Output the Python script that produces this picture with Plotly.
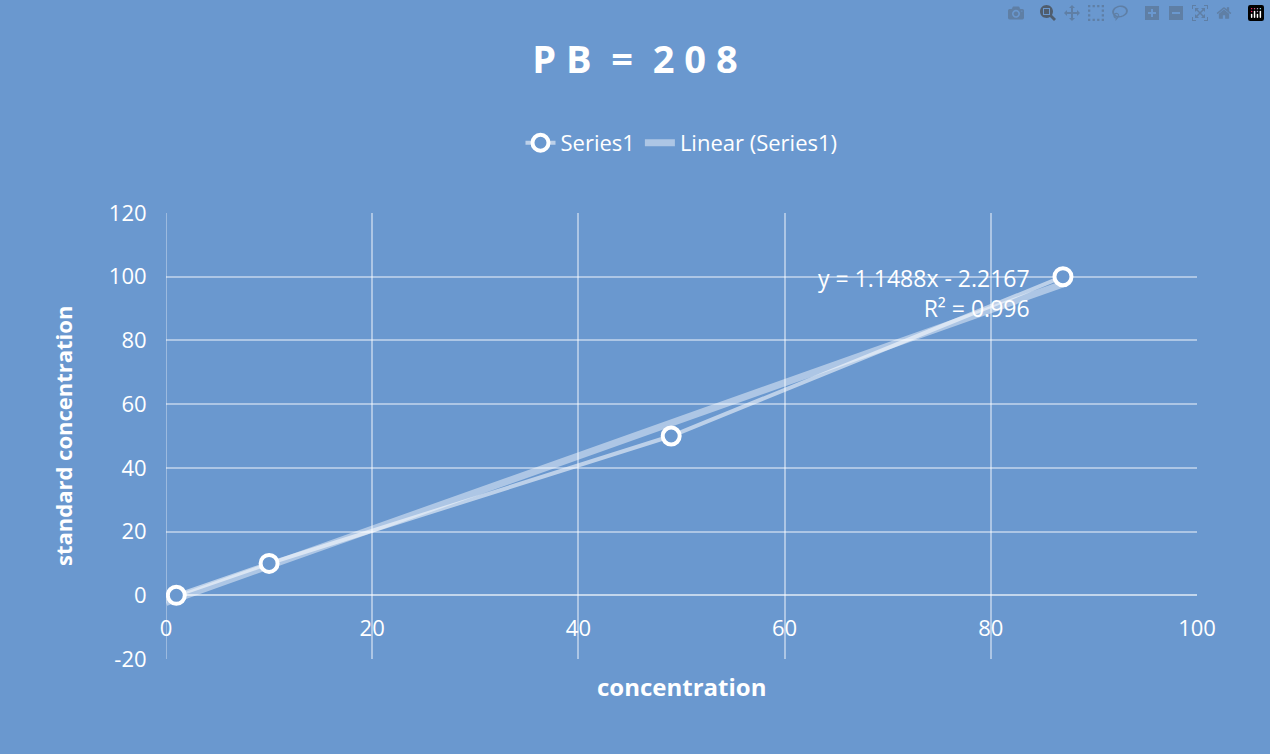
import plotly.graph_objects as go

x_vals = [1, 10, 49, 87]
y_vals = [0, 10, 50, 100]
slope = 1.1488
intercept = -2.2167
trend_x = [0, 87]
trend_y = [intercept + slope * v for v in trend_x]
y_ticks = [-20, 0, 20, 40, 60, 80, 100, 120]
y_tick_text = ["-20", "0", "20", "40", "60", "80", "100", "120"]

bg = "#6A98CF"
fig = go.Figure()
fig.add_trace(go.Scatter(x=trend_x, y=trend_y, mode="lines", name="Linear (Series1)",
                         line=dict(color="rgba(255,255,255,0.45)", width=7)))
fig.add_trace(go.Scatter(x=x_vals, y=y_vals, mode="lines+markers", name="Series1",
                         line=dict(color="rgba(255,255,255,0.55)", width=4),
                         marker=dict(size=17, color=bg, line=dict(color="white", width=4))))

W, H = 1270, 754
top, bottom, left, right = 213, 95, 166, 73
ph = H - top - bottom
pos0 = (659 - 595) / ph
font = "Open Sans, Liberation Sans, Arial, sans-serif"
fig.update_layout(
    width=W, height=H, paper_bgcolor=bg, plot_bgcolor=bg,
    margin=dict(l=left, r=right, t=top, b=bottom),
    font=dict(family=font, color="white", size=22),
    title=dict(text="<b>P B  =  2 0 8</b>", x=0.5, xanchor="center", y=1 - 60 / H, yanchor="middle",
               font=dict(size=38, color="white")),
    legend=dict(orientation="h", x=0.5, xanchor="center", y=1 + (213 - 143) / ph, yanchor="middle",
                font=dict(size=22), traceorder="reversed", bgcolor="rgba(0,0,0,0)"),
    showlegend=True,
    xaxis=dict(range=[0, 100], dtick=20, showgrid=True, gridcolor="rgba(255,255,255,0.45)", gridwidth=1.5,
               zeroline=False, showline=False, anchor="free", position=pos0,
               tickfont=dict(size=22), ticks="outside", ticklen=14, tickcolor="rgba(0,0,0,0)"),
    yaxis=dict(range=[-20, 120], tickvals=y_ticks, ticktext=y_tick_text, showgrid=True,
               gridcolor="rgba(255,255,255,0.45)", gridwidth=1.5,
               zeroline=True, zerolinecolor="rgba(255,255,255,0.6)", zerolinewidth=2,
               tickfont=dict(size=22), ticks="outside", ticklen=14, tickcolor="rgba(0,0,0,0)"),
    annotations=[
        dict(text="<b>concentration</b>", xref="paper", yref="paper", x=0.5, y=-(686 - 659) / ph,
             showarrow=False, font=dict(size=24), yanchor="middle"),
        dict(text="<b>standard concentration</b>", xref="paper", yref="paper", x=-(166 - 63) / (W - left - right),
             y=(659 - 436) / ph, showarrow=False, textangle=-90, font=dict(size=22), xanchor="center", yanchor="middle"),
        dict(text="y = 1.1488x - 2.2167<br>R² = 0.996", x=84, y=95, showarrow=False, align="right",
             xanchor="right", font=dict(size=23)),
    ],
)
fig.add_shape(type="line", xref="x", yref="paper", x0=0, x1=0, y0=0, y1=1,
              line=dict(color="rgba(255,255,255,0.45)", width=1.5), layer="below")
fig.write_html("out.html", post_script="document.body.style.margin='0';")
